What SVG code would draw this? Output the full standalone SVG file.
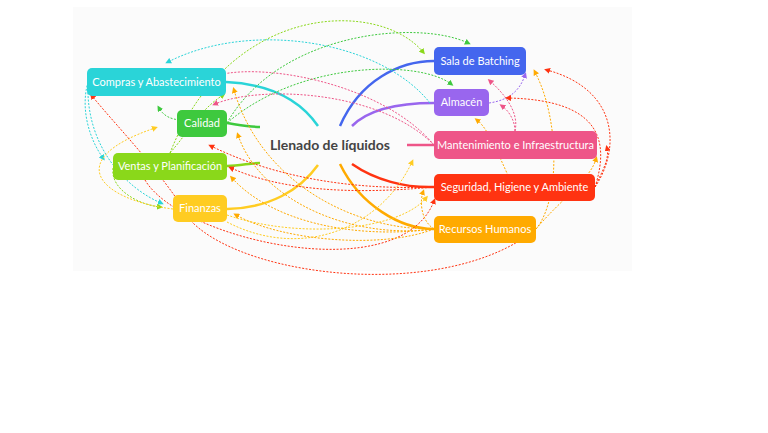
<svg xmlns="http://www.w3.org/2000/svg" width="768" height="433" viewBox="0 0 768 433">
<style>
.n text{font-family:"Lato","Liberation Sans",sans-serif;font-size:11px;fill:#fff}
.b{fill:none;stroke-width:2.5}
.d{fill:none;stroke-width:1;stroke-dasharray:2 1.5}
</style>
<defs>
<marker id="m" viewBox="0 0 10 10" refX="5" refY="5" markerWidth="6" markerHeight="6" orient="auto"><path d="M0,0L10,5L0,10z" fill="context-stroke"/></marker>
</defs>
<rect width="768" height="433" fill="#fff"/>
<rect x="73" y="7" width="559" height="264" fill="#fbfbfb"/>
<g id="connectors">
<path class="b" stroke="#2ad4d8" d="M226,82C270,84 300,100 318,126"/>
<path class="b" stroke="#3ec93e" d="M227,123C240,125 250,127 260,127"/>
<path class="b" stroke="#8ad81a" d="M227,166C240,166 250,163 260,163"/>
<path class="b" stroke="#ffcc22" d="M227,209C270,208 300,190 318,165"/>
<path class="b" stroke="#4466ee" d="M340,126C360,80 400,61 434,61"/>
<path class="b" stroke="#9966ee" d="M352,126C370,108 400,103 434,103"/>
<path class="b" stroke="#ee5588" d="M407,145L434,145"/>
<path class="b" stroke="#ff3311" d="M352,164C375,180 405,188 434,187"/>
<path class="b" stroke="#ffaa00" d="M340,164C360,205 400,229 434,229"/>
<g marker-end="url(#m)">
<path class="d" stroke="#2ad4d8" d="M430,103C380,40 250,20 168,62"/>
<path class="d" stroke="#2ad4d8" d="M88,82C80,110 90,140 103,158"/>
<path class="d" stroke="#2ad4d8" d="M88,82C85,150 130,190 161,203"/>
<path class="d" stroke="#3ec93e" d="M227,123C280,30 420,20 468,43"/>
<path class="d" stroke="#3ec93e" d="M227,123C300,60 420,60 451,84"/>
<path class="d" stroke="#3ec93e" d="M183,120C170,120 163,115 159,108"/>
<path class="d" stroke="#8ad81a" d="M170,153C230,0 380,0 423,52"/>
<path class="d" stroke="#8ad81a" d="M170,153C190,130 200,110 223,95"/>
<path class="d" stroke="#8ad81a" d="M113,168C110,190 140,205 160,207"/>
<path class="d" stroke="#ffcc22" d="M173,209C100,200 60,160 155,128"/>
<path class="d" stroke="#ffcc22" d="M227,222C300,260 380,230 412,162"/>
<path class="d" stroke="#ee5588" d="M434,145C380,80 250,60 210,78"/>
<path class="d" stroke="#ee5588" d="M434,145C380,90 260,85 215,104"/>
<path class="d" stroke="#ee5588" d="M515,131C520,110 500,90 490,81"/>
<path class="d" stroke="#ee5588" d="M515,131C515,120 508,110 502,106"/>
<path class="d" stroke="#9966ee" d="M489,103C510,100 520,90 525,75"/>
<path class="d" stroke="#ff3311" d="M434,187C360,190 280,180 211,146"/>
<path class="d" stroke="#ff3311" d="M434,187C350,195 280,190 231,168"/>
<path class="d" stroke="#ff3311" d="M595,187C620,150 620,90 547,70"/>
<path class="d" stroke="#ff3311" d="M595,187C610,140 600,100 508,98"/>
<path class="d" stroke="#ff3311" d="M595,187C600,175 610,160 607,148"/>
<path class="d" stroke="#ff3311" d="M536,229C450,300 250,280 192,222C160,170 120,130 92,96"/>
<path class="d" stroke="#ff3311" d="M145,180C180,240 400,290 434,201"/>
<path class="d" stroke="#ffaa00" d="M434,229C350,230 260,180 234,90"/>
<path class="d" stroke="#ffaa00" d="M434,229C350,240 260,200 238,135"/>
<path class="d" stroke="#ffaa00" d="M434,229C350,240 270,220 232,178"/>
<path class="d" stroke="#ffaa00" d="M434,229C380,250 280,240 236,215"/>
<path class="d" stroke="#ffaa00" d="M536,229C560,200 560,120 535,72"/>
<path class="d" stroke="#ffaa00" d="M536,229C560,200 590,180 596,159"/>
<path class="d" stroke="#ffaa00" d="M520,201C500,160 490,130 477,120"/>
<path class="d" stroke="#ffaa00" d="M434,229C420,220 420,200 423,192"/>
<path class="d" stroke="#ffcc22" d="M227,215C300,240 400,230 426,198"/>
</g>
</g>
<g id="center"><text x="330" y="150" text-anchor="middle" font-family="Lato,'Liberation Sans',sans-serif" font-size="14" font-weight="bold" fill="#444">Llenado de líquidos</text></g>
<g id="compras" class="n"><rect x="87" y="68" width="139" height="28" rx="5" fill="#2ad4d8"/><text x="156.5" y="86" text-anchor="middle">Compras y Abastecimiento</text></g>
<g id="calidad" class="n"><rect x="177" y="110" width="50" height="27" rx="5" fill="#3ec93e"/><text x="202" y="127" text-anchor="middle">Calidad</text></g>
<g id="ventas" class="n"><rect x="113" y="153" width="114" height="27" rx="5" fill="#8ad81a"/><text x="170" y="170" text-anchor="middle">Ventas y Planificación</text></g>
<g id="finanzas" class="n"><rect x="173" y="195" width="54" height="27" rx="5" fill="#ffcc22"/><text x="200" y="212" text-anchor="middle">Finanzas</text></g>
<g id="sala" class="n"><rect x="434" y="47" width="92" height="28" rx="5" fill="#4466ee"/><text x="480" y="65" text-anchor="middle">Sala de Batching</text></g>
<g id="almacen" class="n"><rect x="434" y="89" width="55" height="27" rx="5" fill="#9966ee"/><text x="461.5" y="106" text-anchor="middle">Almacén</text></g>
<g id="mant" class="n"><rect x="434" y="131" width="163" height="28" rx="5" fill="#ee5588"/><text x="515.5" y="149" text-anchor="middle">Mantenimiento e Infraestructura</text></g>
<g id="seg" class="n"><rect x="434" y="174" width="161" height="27" rx="5" fill="#ff3311"/><text x="514.5" y="191" text-anchor="middle">Seguridad, Higiene y Ambiente</text></g>
<g id="rrhh" class="n"><rect x="434" y="216" width="102" height="27" rx="5" fill="#ffaa00"/><text x="485" y="233" text-anchor="middle">Recursos Humanos</text></g>
</svg>
